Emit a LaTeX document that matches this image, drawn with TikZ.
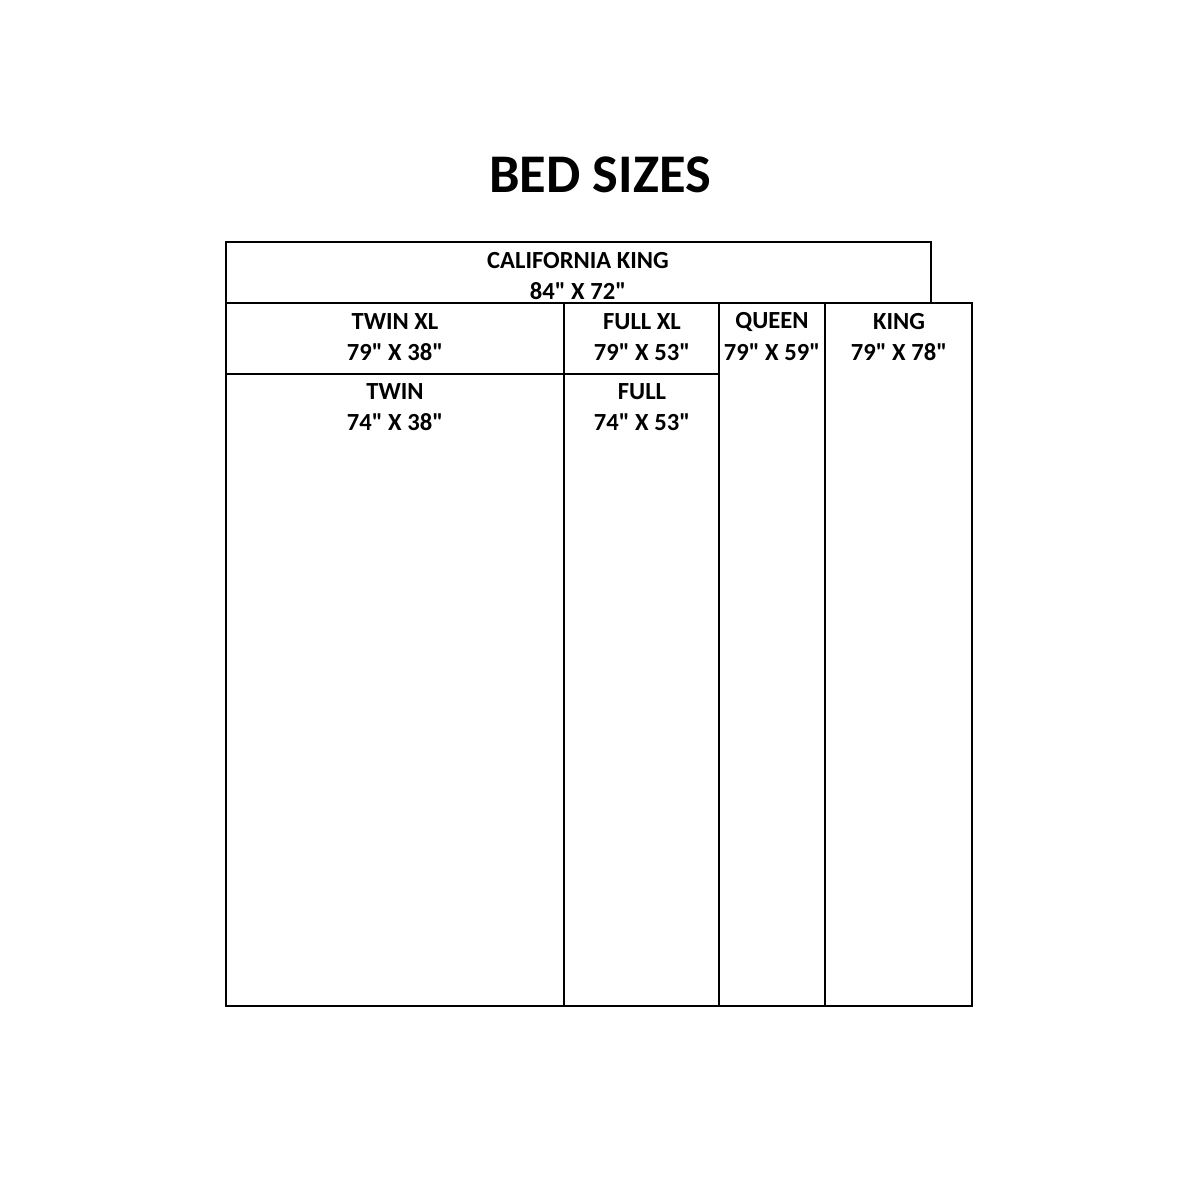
\documentclass[tikz,border=0pt]{standalone}
\usepackage{fontspec}
\setmainfont{Carlito}[Ligatures=TeXOff]
\usepackage{tikz}

\begin{document}
\begin{tikzpicture}[x=0.02cm,y=-0.02cm,
    bedline/.style={black,line width=1.6pt},
    bedlabel/.style={inner sep=0pt,font=\fontsize{14}{16}\selectfont\bfseries},
    title/.style={inner sep=0pt,font=\fontsize{31}{36}\selectfont\bfseries}]
        \useasboundingbox [fill=white] (0,0) rectangle (1200,1200);
        \node [title] (title) at (600,175) {BED SIZES};
        % boxes
        \draw [bedline] (226,303) -- (226,242) -- (931,242) -- (931,303);
        \draw [bedline] (226,303) rectangle (972,1006);
        \draw [bedline] (564,303) -- (564,1006);
        \draw [bedline] (719,303) -- (719,1006);
        \draw [bedline] (825,303) -- (825,1006);
        \draw [bedline] (226,374) -- (719,374);
        % labels
        \node [bedlabel] (calking) at (578,261) {CALIFORNIA KING};
        \node [bedlabel] (calkingsz) at (578,291) {84" X 72"};
        \node [bedlabel] (twinxl) at (395,322) {TWIN XL};
        \node [bedlabel] (twinxlsz) at (395,352) {79" X 38"};
        \node [bedlabel] (fullxl) at (642,322) {FULL XL};
        \node [bedlabel] (fullxlsz) at (642,352) {79" X 53"};
        \node [bedlabel] (queen) at (772,322) {QUEEN};
        \node [bedlabel] (queensz) at (772,352) {79" X 59"};
        \node [bedlabel] (king) at (899,322) {KING};
        \node [bedlabel] (kingsz) at (899,352) {79" X 78"};
        \node [bedlabel] (twin) at (395,392) {TWIN};
        \node [bedlabel] (twinsz) at (395,422) {74" X 38"};
        \node [bedlabel] (full) at (642,392) {FULL};
        \node [bedlabel] (fullsz) at (642,422) {74" X 53"};
    \end{tikzpicture}
\end{document}
